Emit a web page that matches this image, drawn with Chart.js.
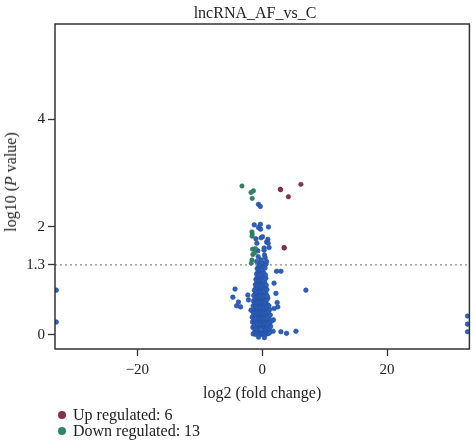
<!DOCTYPE html>
<html>
<head>
<meta charset="utf-8">
<script src="https://cdn.jsdelivr.net/npm/chart.js@4"></script>
<style>
  body { margin: 0; background: #fff; }
  #wrap { position: relative; width: 474px; height: 443px; font-family: "Liberation Serif", "DejaVu Serif", serif; color: #222; }
  #ttl { position: absolute; left: 255px; top: 13px; transform: translate(-50%, -50%); font-size: 16px; white-space: nowrap; }
  #ylab { position: absolute; left: 11px; top: 182px; transform: translate(-50%, -50%) rotate(-90deg); font-size: 16px; white-space: nowrap; }
  #legend { position: absolute; left: 58px; top: 407px; font-size: 16px; line-height: 16px; }
  #legend div { white-space: nowrap; height: 16px; }
  #legend span.dot { display: inline-block; width: 8px; height: 8px; border-radius: 50%; margin-right: 7px; vertical-align: 1px; }
</style>
</head>
<body>
<div id="wrap">
  <canvas id="volcano" width="474" height="443"></canvas>
  <div id="ttl">lncRNA_AF_vs_C</div>
  <div id="ylab">log10 (<i>P</i> value)</div>
  <div id="legend"></div>
</div>
<script>
const title = 'lncRNA_AF_vs_C';
const xTicks = [-20, 0, 20];
const yTicks = [0, 1.3, 2, 4];
const threshold = 1.3;
const upCount = 6;
const downCount = 13;

// [log2 fold change, log10 P]
const upPoints = [[2.9, 2.70], [4.2, 2.56], [6.2, 2.79], [3.5, 1.62], [2.95, 2.69], [3.55, 1.61]];
const downPoints = [[-3.24, 2.76], [-1.8, 2.64], [-1.4, 2.67], [-1.6, 2.53], [-1.64, 1.91], [-1.6, 1.87],
  [-1.62, 1.83], [-1.55, 1.59], [-1.1, 1.6], [-1.5, 1.49], [-1.64, 1.39], [-1.2, 1.52], [-1.75, 1.33]];
const otherPoints = [
  [-1.45,0.02],[-1.2,0.06],[-1.02,0.01],[-0.88,0.08],[-0.75,0.04],[-0.62,0.09],[-0.51,0.02],[-0.4,0.05],[-0.31,0.08],[-0.22,0.01],[-0.12,0.06],[-0.03,0.03],[0.06,0.09],[0.15,0.02],[0.24,0.07],[0.33,0.04],[0.44,0.01],[0.53,0.08],[0.64,0.05],[0.76,0.02],[0.9,0.07],[1.05,0.03],[1.22,0.05],[-0.58,-0.04],[0.35,-0.05],
  [-1.5,0.14],[-1.28,0.18],[-1.1,0.12],[-0.95,0.16],[-0.8,0.11],[-0.68,0.19],[-0.55,0.13],[-0.45,0.17],[-0.34,0.12],[-0.25,0.15],[-0.15,0.19],[-0.06,0.11],[0.03,0.16],[0.12,0.13],[0.21,0.18],[0.3,0.11],[0.4,0.15],[0.5,0.19],[0.6,0.12],[0.71,0.17],[0.84,0.14],[0.98,0.18],[1.15,0.12],[1.35,0.16],[-0.2,0.1],
  [-1.55,0.24],[-1.32,0.28],[-1.15,0.22],[-0.98,0.27],[-0.84,0.21],[-0.7,0.25],[-0.58,0.29],[-0.47,0.23],[-0.37,0.27],[-0.27,0.21],[-0.17,0.26],[-0.08,0.29],[0.01,0.22],[0.1,0.27],[0.19,0.23],[0.28,0.28],[0.38,0.21],[0.47,0.26],[0.57,0.22],[0.68,0.28],[0.8,0.24],[0.93,0.2],[1.08,0.27],[1.25,0.23],[1.5,0.26],
  [-1.6,0.33],[-1.35,0.37],[-1.18,0.31],[-1.0,0.36],[-0.86,0.32],[-0.72,0.38],[-0.6,0.31],[-0.49,0.35],[-0.39,0.39],[-0.29,0.32],[-0.19,0.36],[-0.1,0.31],[-0.01,0.38],[0.08,0.33],[0.17,0.37],[0.26,0.31],[0.36,0.35],[0.46,0.39],[0.56,0.32],[0.67,0.36],[0.79,0.31],[0.92,0.38],[1.1,0.34],[1.3,0.37],
  [-1.5,0.43],[-1.25,0.47],[-1.06,0.41],[-0.9,0.46],[-0.76,0.42],[-0.63,0.48],[-0.52,0.41],[-0.41,0.45],[-0.31,0.49],[-0.21,0.42],[-0.12,0.46],[-0.02,0.41],[0.07,0.48],[0.16,0.43],[0.26,0.47],[0.36,0.41],[0.46,0.45],[0.57,0.49],[0.69,0.42],[0.83,0.46],[1.0,0.43],[1.2,0.47],
  [-1.45,0.54],[-1.2,0.58],[-1.02,0.52],[-0.86,0.56],[-0.72,0.51],[-0.6,0.57],[-0.48,0.53],[-0.37,0.59],[-0.27,0.52],[-0.17,0.56],[-0.07,0.51],[0.03,0.58],[0.13,0.53],[0.23,0.57],[0.34,0.51],[0.45,0.55],[0.57,0.59],[0.7,0.52],[0.86,0.56],[1.08,0.54],
  [-1.4,0.63],[-1.14,0.67],[-0.96,0.61],[-0.8,0.66],[-0.66,0.62],[-0.54,0.68],[-0.42,0.61],[-0.31,0.65],[-0.21,0.69],[-0.11,0.62],[-0.01,0.66],[0.09,0.61],[0.19,0.68],[0.3,0.63],[0.42,0.67],[0.55,0.61],[0.7,0.65],[0.9,0.68],
  [-1.35,0.73],[-1.08,0.77],[-0.9,0.71],[-0.74,0.76],[-0.6,0.72],[-0.47,0.78],[-0.35,0.71],[-0.24,0.75],[-0.13,0.79],[-0.03,0.72],[0.08,0.76],[0.19,0.71],[0.31,0.78],[0.44,0.73],[0.6,0.77],[0.8,0.72],
  [-1.25,0.83],[-1.0,0.87],[-0.82,0.81],[-0.66,0.86],[-0.52,0.82],[-0.39,0.88],[-0.27,0.81],[-0.15,0.85],[-0.04,0.89],[0.07,0.82],[0.19,0.86],[0.33,0.81],[0.5,0.87],[0.75,0.84],
  [-1.1,0.93],[-0.88,0.97],[-0.7,0.91],[-0.55,0.96],[-0.42,0.92],[-0.29,0.98],[-0.17,0.91],[-0.05,0.95],[0.08,0.99],[0.22,0.93],[0.4,0.97],[0.65,0.92],
  [-1.0,1.03],[-0.78,1.07],[-0.6,1.01],[-0.45,1.06],[-0.3,1.02],[-0.16,1.08],[-0.02,1.03],[0.13,1.07],[0.32,1.01],[0.58,1.05],
  [-0.9,1.13],[-0.66,1.17],[-0.48,1.11],[-0.3,1.16],[-0.12,1.12],[0.06,1.18],[0.28,1.14],[0.52,1.11],
  [-0.8,1.23],[-0.55,1.27],[-0.35,1.21],[-0.15,1.26],[0.05,1.22],[0.25,1.28],[0.45,1.24],
  [0.1,1.33],[-0.45,1.31],[-0.1,1.34],[0.6,1.31],
  [-0.2,1.39],[0.7,1.36],[-0.9,1.36],[0.37,1.48],[0.48,1.43],[-0.64,1.45],[-0.7,1.56],[0.3,1.61],[1.1,1.62],[0.3,1.57],
  [-0.85,1.70],[0.7,1.72],[0.96,1.70],[-1.0,1.78],[-0.16,1.80],[0.05,1.82],[0.9,1.77],
  [-1.28,2.04],[-0.3,2.05],[-0.6,1.99],[-0.27,1.96],[1.0,2.0],[-0.6,2.42],[-0.3,2.38],
  [-4.35,0.85],[-4.7,0.70],[-3.8,0.61],[-3.46,0.52],[-4.1,0.54],[-2.3,0.74],[-2.2,0.65],[-1.8,0.46],
  [7.0,0.83],[2.3,1.18],[3.0,1.18],[1.75,0.07],[3.0,0.06],[3.9,0.03],[5.4,0.07],
  [1.9,0.96],[2.2,0.77],[2.4,0.6],[2.5,0.52],[1.9,0.49],[1.8,0.28],
  [-33.0,0.83],[-33.0,0.24],[32.9,0.35],[32.9,0.2],[32.9,0.06]
];

const xRange = [-33.2, 33.2];
const yRange = [-0.26, 5.76];

const toXY = pts => pts.map(p => ({x: p[0], y: p[1]}));
const serif = '"Liberation Serif", "DejaVu Serif", serif';

// box round the plot area
const frame = {
  id: 'frame',
  afterDatasetsDraw(chart) {
    const a = chart.chartArea, ctx = chart.ctx;
    ctx.save();
    ctx.strokeStyle = '#333';
    ctx.lineWidth = 1.5;
    ctx.strokeRect(a.left, a.top, a.right - a.left, a.bottom - a.top);
    ctx.restore();
  }
};

new Chart(document.getElementById('volcano'), {
  type: 'scatter',
  data: {
    datasets: [
      {
        type: 'line',
        label: 'threshold',
        data: [{x: xRange[0], y: threshold}, {x: xRange[1], y: threshold}],
        borderColor: '#8a8a8a',
        borderWidth: 1.3,
        borderDash: [2, 3],
        pointRadius: 0,
        order: 3
      },
      {
        label: 'other',
        data: toXY(otherPoints),
        backgroundColor: '#2d5fbd',
        borderColor: '#234f9e',
        borderWidth: 0.6,
        pointRadius: 2.3,
        order: 2
      },
      {
        label: 'Down regulated: ' + downCount,
        data: toXY(downPoints),
        backgroundColor: '#2f8568',
        borderColor: '#2a745c',
        borderWidth: 0.6,
        pointRadius: 2.2,
        order: 1
      },
      {
        label: 'Up regulated: ' + upCount,
        data: toXY(upPoints),
        backgroundColor: '#85304c',
        borderColor: '#742840',
        borderWidth: 0.6,
        pointRadius: 2.2,
        order: 0
      }
    ]
  },
  options: {
    responsive: false,
    animation: false,
    layout: { padding: { top: 24, right: 3, bottom: 34, left: 0 } },
    plugins: {
      legend: { display: false },
      tooltip: { enabled: false }
    },
    scales: {
      x: {
        type: 'linear',
        min: xRange[0],
        max: xRange[1],
        afterBuildTicks: s => { s.ticks = xTicks.map(v => ({value: v})); },
        afterFit: s => { s.height = 60; },
        ticks: {
          color: '#222',
          padding: 5,
          font: { family: serif, size: 15 },
          callback: v => (v < 0 ? '\u2212' + Math.abs(v) : String(v))
        },
        grid: { drawOnChartArea: false, drawTicks: true, tickLength: 7, tickColor: '#333', tickWidth: 1.3 },
        border: { display: false },
        title: {
          display: true,
          text: 'log2 (fold change)',
          color: '#222',
          font: { family: serif, size: 16 },
          padding: { top: 0, bottom: 6 }
        }
      },
      y: {
        type: 'linear',
        min: yRange[0],
        max: yRange[1],
        afterBuildTicks: s => { s.ticks = yTicks.map(v => ({value: v})); },
        afterFit: s => { s.width = 55; },
        ticks: {
          color: '#222',
          padding: 3,
          font: { family: serif, size: 15 },
          callback: v => String(v)
        },
        grid: { drawOnChartArea: false, drawTicks: true, tickLength: 7, tickColor: '#333', tickWidth: 1.3 },
        border: { display: false }
      }
    }
  },
  plugins: [frame]
});

// legend rows below the axis
const legendRows = [
  {text: 'Up regulated: ' + upCount, color: '#85304c'},
  {text: 'Down regulated: ' + downCount, color: '#2f8568'}
];
document.getElementById('legend').innerHTML = legendRows
  .map(r => '<div><span class="dot" style="background:' + r.color + '"></span>' + r.text + '</div>')
  .join('');
</script>
</body>
</html>
